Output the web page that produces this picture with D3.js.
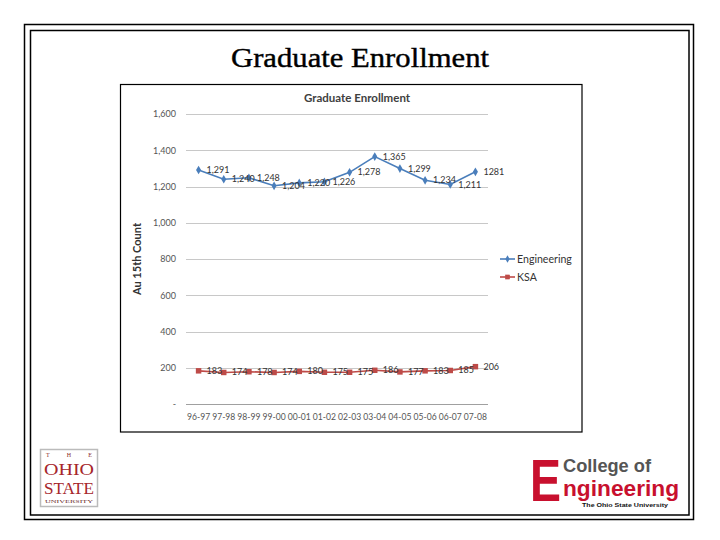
<!DOCTYPE html>
<html>
<head>
<meta charset="utf-8">
<script src="https://cdn.jsdelivr.net/npm/d3@7"></script>
<style>
  body { margin: 0; background: #fff; }
  svg { display: block; }
</style>
</head>
<body>
<svg id="slide" width="720" height="540"></svg>
<script>
// chart data
const years = ["96-97", "97-98", "98-99", "99-00", "00-01", "01-02", "02-03", "03-04", "04-05", "05-06", "06-07", "07-08"];
const engineering = [1291, 1240, 1248, 1204, 1220, 1226, 1278, 1365, 1299, 1234, 1211, 1281];
const ksa = [183, 174, 178, 174, 180, 175, 175, 186, 177, 183, 185, 206];
const engLabels = ["1,291", "1,240", "1,248", "1,204", "1,220", "1,226", "1,278", "1,365", "1,299", "1,234", "1,211", "1281"];
const yTicks = [0, 200, 400, 600, 800, 1000, 1200, 1400, 1600];

const svg = d3.select( "#slide" );

// slide frame, double line
svg.append( "rect" )
    .attr( "x", 24.5 ).attr( "y", 24.5 ).attr( "width", 669 ).attr( "height", 495 )
    .attr( "fill", "none" ).attr( "stroke", "#000" ).attr( "stroke-width", 1.5 );
svg.append( "rect" )
    .attr( "x", 30.5 ).attr( "y", 30.5 ).attr( "width", 658.5 ).attr( "height", 484.5 )
    .attr( "fill", "none" ).attr( "stroke", "#000" ).attr( "stroke-width", 1.5 );

svg.append( "text" )
    .attr( "x", 360 ).attr( "y", 67 )
    .attr( "text-anchor", "middle" )
    .style( "font-family", "'Liberation Serif', serif" )
    .style( "font-size", "27px" )
    .attr( "textLength", 258 ).attr( "lengthAdjust", "spacingAndGlyphs" )
    .attr( "stroke", "#000" ).attr( "stroke-width", 0.4 )
    .text( "Graduate Enrollment" );

// embedded chart box
const box = { x: 120.5, y: 84.5, w: 461.5, h: 347.5 };
svg.append( "rect" )
    .attr( "x", box.x ).attr( "y", box.y ).attr( "width", box.w ).attr( "height", box.h )
    .attr( "fill", "#fff" ).attr( "stroke", "#000" ).attr( "stroke-width", 1.2 );

const font = "Lato, 'Liberation Sans', sans-serif";

svg.append( "text" )
    .attr( "x", 357 ).attr( "y", 102 )
    .attr( "text-anchor", "middle" )
    .style( "font-family", font ).style( "font-weight", "bold" ).style( "font-size", "11.5px" )
    .attr( "fill", "#404040" )
    .text( "Graduate Enrollment" );

const x = d3.scaleBand().domain( years ).range( [ 186, 488 ] );
const y = d3.scaleLinear().domain( [ 0, 1600 ] ).range( [ 404, 114 ] );
const cx = d => x( d ) + x.bandwidth() / 2;

const g = svg.append( "g" );

// gridlines
g.selectAll( "line.grid" )
    .data( yTicks.filter( t => t > 0 ) )
    .enter()
    .append( "line" )
    .attr( "x1", 186 ).attr( "x2", 488 )
    .attr( "y1", d => Math.round( y( d ) ) + 0.5 )
    .attr( "y2", d => Math.round( y( d ) ) + 0.5 )
    .attr( "stroke", "#c8c8c8" ).attr( "stroke-width", 1 );

// baseline
g.append( "line" )
    .attr( "x1", 186 ).attr( "x2", 488 )
    .attr( "y1", Math.round( y( 0 ) ) + 0.5 ).attr( "y2", Math.round( y( 0 ) ) + 0.5 )
    .attr( "stroke", "#a0a0a0" );

const yAxis = d3.axisLeft( y )
    .tickValues( yTicks )
    .tickSize( 0 )
    .tickPadding( 10 )
    .tickFormat( d => d === 0 ? "-" : d3.format( "," )( d ) );

g.append( "g" )
    .attr( "transform", "translate(186,0)" )
    .call( yAxis )
    .call( a => a.select( ".domain" ).remove() )
    .call( a => a.selectAll( "text" )
        .style( "font-family", font ).style( "font-size", "9px" ).attr( "fill", "#555" ) );

const xAxis = d3.axisBottom( x ).tickSize( 0 ).tickPadding( 10 );
g.append( "g" )
    .attr( "transform", "translate(0,404)" )
    .call( xAxis )
    .call( a => a.select( ".domain" ).remove() )
    .call( a => a.selectAll( "text" )
        .style( "font-family", font ).style( "font-size", "8.6px" ).attr( "fill", "#555" ) );

svg.append( "text" )
    .attr( "transform", "translate(141,259) rotate(-90)" )
    .attr( "text-anchor", "middle" )
    .style( "font-family", font ).style( "font-weight", "bold" ).style( "font-size", "11px" )
    .attr( "fill", "#333" )
    .text( "Au 15th Count" );

const engColor = "#4a7ebb";
const ksaColor = "#be4b48";

const line = d3.line().x( d => cx( d.year ) ).y( d => y( d.value ) );
const engData = years.map( ( yr, i ) => ( { year: yr, value: engineering[ i ], label: engLabels[ i ] } ) );
const ksaData = years.map( ( yr, i ) => ( { year: yr, value: ksa[ i ], label: String( ksa[ i ] ) } ) );

const drawSeries = ( data, color, symbol, size ) => {
    g.append( "path" )
        .datum( data )
        .attr( "d", line )
        .attr( "fill", "none" )
        .attr( "stroke", color ).attr( "stroke-width", 1.6 );

    g.selectAll( null )
        .data( data )
        .enter()
        .append( "path" )
        .attr( "d", d3.symbol().type( symbol ).size( size ) )
        .attr( "transform", d => `translate(${cx( d.year )},${y( d.value )})` )
        .attr( "fill", color );

    g.selectAll( null )
        .data( data )
        .enter()
        .append( "text" )
        .attr( "x", d => cx( d.year ) + 8 )
        .attr( "y", d => y( d.value ) + 3 )
        .style( "font-family", font ).style( "font-size", "9px" )
        .attr( "fill", "#333" )
        .text( d => d.label );
};

drawSeries( engData, engColor, d3.symbolDiamond, 22 );
drawSeries( ksaData, ksaColor, d3.symbolSquare, 30 );

// legend
const legend = svg.append( "g" ).attr( "transform", "translate(500,259)" );
[ [ "Engineering", engColor, d3.symbolDiamond, 16 ], [ "KSA", ksaColor, d3.symbolSquare, 22 ] ].forEach( ( s, i ) => {
    const row = legend.append( "g" ).attr( "transform", `translate(0,${i * 18})` );
    row.append( "line" ).attr( "x1", 0 ).attr( "x2", 15 ).attr( "stroke", s[ 1 ] ).attr( "stroke-width", 1.6 );
    row.append( "path" ).attr( "d", d3.symbol().type( s[ 2 ] ).size( s[ 3 ] ) )
        .attr( "transform", "translate(7.5,0)" ).attr( "fill", s[ 1 ] );
    row.append( "text" ).attr( "x", 17 ).attr( "y", 3.5 )
        .style( "font-family", font ).style( "font-size", "10.6px" ).attr( "fill", "#333" )
        .text( s[ 0 ] );
} );

// OSU logo
const serif = "'Liberation Serif', serif";
const osu = svg.append( "g" ).attr( "transform", "translate(40,449)" );
osu.append( "rect" ).attr( "x", 0.5 ).attr( "y", 0.5 ).attr( "width", 57 ).attr( "height", 57 )
    .attr( "fill", "#fff" ).attr( "stroke", "#bbb" ).attr( "stroke-width", 1.5 );
osu.append( "text" ).attr( "x", 29 ).attr( "y", 8 ).attr( "text-anchor", "middle" )
    .style( "font-family", serif ).style( "font-size", "6px" )
    .attr( "textLength", 46 ).attr( "lengthAdjust", "spacing" )
    .attr( "fill", "#8a2a2a" ).text( "THE" );
osu.append( "text" ).attr( "x", 29 ).attr( "y", 26 ).attr( "text-anchor", "middle" )
    .style( "font-family", serif ).style( "font-size", "17px" )
    .attr( "textLength", 50 ).attr( "lengthAdjust", "spacingAndGlyphs" )
    .attr( "fill", "#a6262b" ).text( "OHIO" );
osu.append( "text" ).attr( "x", 29 ).attr( "y", 45 ).attr( "text-anchor", "middle" )
    .style( "font-family", serif ).style( "font-size", "17px" )
    .attr( "textLength", 50 ).attr( "lengthAdjust", "spacingAndGlyphs" )
    .attr( "fill", "#a6262b" ).text( "STATE" );
osu.append( "text" ).attr( "x", 29 ).attr( "y", 54 ).attr( "text-anchor", "middle" )
    .style( "font-family", serif ).style( "font-size", "5px" )
    .attr( "textLength", 48 ).attr( "lengthAdjust", "spacingAndGlyphs" )
    .attr( "fill", "#6a2a2a" ).text( "UNIVERSITY" );

// College of Engineering logo
const sans = "'Liberation Sans', sans-serif";
const coe = svg.append( "g" ).attr( "transform", "translate(530,455)" );
coe.append( "text" ).attr( "x", 0 ).attr( "y", 46 )
    .style( "font-family", sans ).style( "font-weight", "bold" )
    .style( "font-size", "60px" ).attr( "textLength", 31 ).attr( "lengthAdjust", "spacingAndGlyphs" )
    .attr( "fill", "#c8102e" ).text( "E" );
coe.append( "text" ).attr( "x", 33 ).attr( "y", 17 )
    .style( "font-family", sans ).style( "font-weight", "bold" )
    .style( "font-size", "18px" ).attr( "textLength", 88 ).attr( "lengthAdjust", "spacingAndGlyphs" )
    .attr( "fill", "#555" ).text( "College of" );
coe.append( "text" ).attr( "x", 33 ).attr( "y", 41 )
    .style( "font-family", sans ).style( "font-weight", "bold" )
    .style( "font-size", "22px" ).attr( "textLength", 116 ).attr( "lengthAdjust", "spacingAndGlyphs" )
    .attr( "fill", "#c8102e" ).text( "ngineering" );
coe.append( "text" ).attr( "x", 52 ).attr( "y", 52 )
    .style( "font-family", sans ).style( "font-weight", "bold" )
    .style( "font-size", "6px" ).attr( "textLength", 86 ).attr( "lengthAdjust", "spacingAndGlyphs" )
    .attr( "fill", "#111" ).text( "The Ohio State University" );
</script>
</body>
</html>
